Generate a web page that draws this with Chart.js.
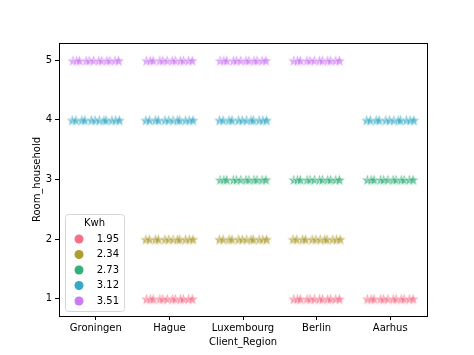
<!DOCTYPE html>
<html><head><meta charset="utf-8">
<script src="https://cdn.jsdelivr.net/npm/chart.js@4/dist/chart.umd.min.js"></script>
<style>html,body{margin:0;padding:0;background:#fff}#w{width:474px;height:355px}</style>
</head><body><div id="w"><canvas id="c" width="474" height="355"></canvas></div>
<script>
const categories = ['Groningen','Hague','Luxembourg','Berlin','Aarhus'];
const kwhLevels = ['1.95','2.34','2.73','3.12','3.51'];
const levelColors = ['#f77189','#ae9d31','#33b07a','#38a9c5','#cc7af4'];
const roomByLevel = [1, 2, 3, 4, 5];
const regionsByLevel = [
  ['Hague','Berlin','Aarhus'],
  ['Hague','Luxembourg','Berlin'],
  ['Luxembourg','Berlin','Aarhus'],
  ['Groningen','Hague','Luxembourg','Aarhus'],
  ['Groningen','Hague','Luxembourg','Berlin']
];
const jitterA = [-0.31,-0.26,-0.22,-0.13,-0.09,-0.03,0.04,0.08,0.15,0.19,0.26,0.31];
const jitterB = [-0.32,-0.27,-0.19,-0.15,-0.06,-0.01,0.05,0.11,0.14,0.22,0.27,0.32];
const yTicks = [1,2,3,4,5];

function makeStar(color, r) {
  const s = Math.ceil(r * 2 + 2);
  const c = document.createElement('canvas');
  c.width = s; c.height = s;
  const g = c.getContext('2d');
  g.beginPath();
  for (let i = 0; i < 10; i++) {
    const a = -Math.PI / 2 + i * Math.PI / 5;
    const rr = (i % 2) ? r * 0.42 : r;
    const px = s / 2 + rr * Math.cos(a), py = s / 2 + 0.8 + rr * Math.sin(a);
    if (i === 0) g.moveTo(px, py); else g.lineTo(px, py);
  }
  g.closePath();
  g.globalAlpha = 0.7;
  g.fillStyle = color; g.fill();
  g.globalAlpha = 0.85;
  g.strokeStyle = '#ffffff'; g.lineWidth = 0.7; g.stroke();
  return c;
}

const datasets = kwhLevels.map((lv, li) => {
  const jit = li % 2 ? jitterB : jitterA;
  const pts = [];
  regionsByLevel[li].forEach(reg => {
    const xi = categories.indexOf(reg);
    jit.forEach(j => pts.push({x: xi + j, y: roomByLevel[li]}));
  });
  return {
    label: lv, data: pts,
    pointStyle: makeStar(levelColors[li], 6.3),
    pointRadius: 6, pointHoverRadius: 6,
    backgroundColor: levelColors[li], borderColor: levelColors[li], showLine: false
  };
});

const FONT = {family: 'DejaVu Sans', size: 10};

const framePlugin = {
  id: 'frame',
  afterDraw(chart) {
    const {ctx, chartArea: a} = chart;
    ctx.save();
    ctx.strokeStyle = '#000'; ctx.lineWidth = 1;
    ctx.strokeRect(Math.round(a.left) + 0.5, Math.round(a.top) + 0.5,
      Math.round(a.right - a.left), Math.round(a.bottom - a.top));
    // legend
    const lx = 65, ly = 214, lw = 59, lh = 97;
    ctx.beginPath();
    if (ctx.roundRect) ctx.roundRect(lx + 0.5, ly + 0.5, lw, lh, 3); else ctx.rect(lx + 0.5, ly + 0.5, lw, lh);
    ctx.fillStyle = 'rgba(255,255,255,0.8)'; ctx.fill();
    ctx.strokeStyle = '#d6d6d6'; ctx.lineWidth = 1; ctx.stroke();
    ctx.fillStyle = '#000';
    ctx.font = '10px "DejaVu Sans"';
    ctx.textAlign = 'center'; ctx.textBaseline = 'middle';
    ctx.fillText('Kwh', lx + lw / 2, ly + 9.5);
    kwhLevels.forEach((lv, i) => {
      const y = ly + 25 + i * 15.5;
      ctx.beginPath(); ctx.arc(79, y, 4.5, 0, Math.PI * 2);
      ctx.fillStyle = levelColors[i]; ctx.fill();
      ctx.fillStyle = '#000'; ctx.textAlign = 'right';
      ctx.fillText(lv, 119, y);
    });
    ctx.restore();
  }
};

new Chart(document.getElementById('c'), {
  type: 'scatter',
  data: {datasets},
  plugins: [framePlugin],
  options: {
    responsive: false, animation: false, devicePixelRatio: 1,
    layout: {padding: {top: 43, right: 47, left: 0, bottom: 0}},
    plugins: {legend: {display: false}, tooltip: {enabled: false}},
    scales: {
      x: {
        type: 'linear', min: -0.5, max: 4.5,
        afterFit(s) { s.height = 39; },
        afterBuildTicks(s) { s.ticks = categories.map((c, i) => ({value: i})); },
        ticks: {font: FONT, color: '#000', padding: 2, maxRotation: 0, autoSkip: false,
          callback: v => categories[v]},
        grid: {display: true, drawOnChartArea: false, drawTicks: true, tickLength: 4, color: '#000'},
        border: {display: false},
        title: {display: true, text: 'Client_Region', font: FONT, color: '#000', padding: {top: 0, bottom: 7}}
      },
      y: {
        type: 'linear', min: 0.71, max: 5.29,
        afterFit(s) { s.width = 59; },
        afterBuildTicks(s) { s.ticks = yTicks.map(v => ({value: v})); },
        ticks: {font: FONT, color: '#000', padding: 3},
        grid: {display: true, drawOnChartArea: false, drawTicks: true, tickLength: 4, color: '#000'},
        border: {display: false},
        title: {display: true, text: 'Room_household', font: FONT, color: '#000', padding: {top: 31, bottom: 0}}
      }
    }
  }
});
</script>
</body></html>
